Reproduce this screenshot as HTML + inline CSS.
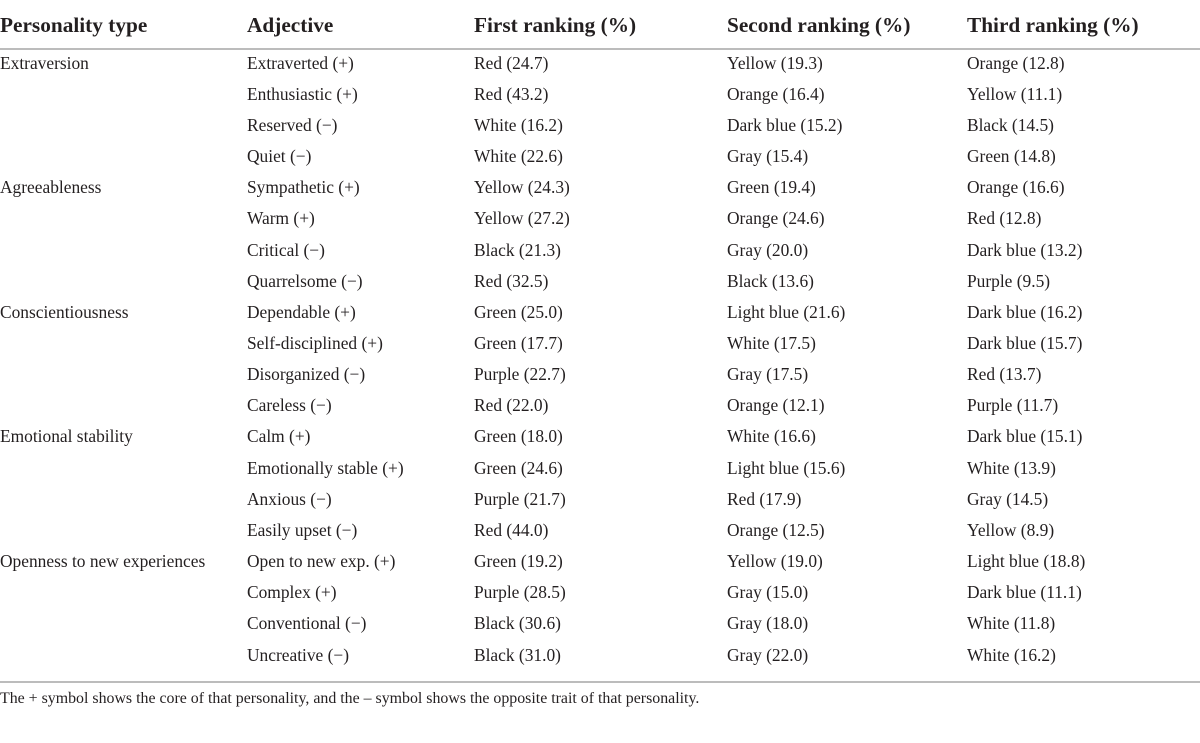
<!DOCTYPE html>
<html><head><meta charset="utf-8"><style>
body{margin:0;width:1200px;height:743px;background:#fff;position:relative;font-family:"Liberation Serif",serif;color:#231f20;overflow:hidden}
.h{position:absolute;top:11px;font-weight:bold;font-size:21.3px;line-height:28px;white-space:nowrap}
.c{position:absolute;font-size:17.4px;line-height:20px;white-space:nowrap}
.line{position:absolute;left:0;width:1200px;height:2px;background:#bcbcbc}
.f{position:absolute;left:0;top:689px;font-size:15.9px;line-height:20px;white-space:nowrap}
</style></head><body>
<div class="h" style="left:0">Personality type</div>
<div class="h" style="left:247px">Adjective</div>
<div class="h" style="left:474px">First ranking (%)</div>
<div class="h" style="left:727px">Second ranking (%)</div>
<div class="h" style="left:967px">Third ranking (%)</div>
<div class="line" style="top:48px"></div>
<div class="line" style="top:681px"></div>
<div id="rows"></div>
<div class="f">The + symbol shows the core of that personality, and the – symbol shows the opposite trait of that personality.</div>
<script>
var d=[["Extraversion","Extraverted (+)","Red (24.7)","Yellow (19.3)","Orange (12.8)"],
["","Enthusiastic (+)","Red (43.2)","Orange (16.4)","Yellow (11.1)"],
["","Reserved (−)","White (16.2)","Dark blue (15.2)","Black (14.5)"],
["","Quiet (−)","White (22.6)","Gray (15.4)","Green (14.8)"],
["Agreeableness","Sympathetic (+)","Yellow (24.3)","Green (19.4)","Orange (16.6)"],
["","Warm (+)","Yellow (27.2)","Orange (24.6)","Red (12.8)"],
["","Critical (−)","Black (21.3)","Gray (20.0)","Dark blue (13.2)"],
["","Quarrelsome (−)","Red (32.5)","Black (13.6)","Purple (9.5)"],
["Conscientiousness","Dependable (+)","Green (25.0)","Light blue (21.6)","Dark blue (16.2)"],
["","Self-disciplined (+)","Green (17.7)","White (17.5)","Dark blue (15.7)"],
["","Disorganized (−)","Purple (22.7)","Gray (17.5)","Red (13.7)"],
["","Careless (−)","Red (22.0)","Orange (12.1)","Purple (11.7)"],
["Emotional stability","Calm (+)","Green (18.0)","White (16.6)","Dark blue (15.1)"],
["","Emotionally stable (+)","Green (24.6)","Light blue (15.6)","White (13.9)"],
["","Anxious (−)","Purple (21.7)","Red (17.9)","Gray (14.5)"],
["","Easily upset (−)","Red (44.0)","Orange (12.5)","Yellow (8.9)"],
["Openness to new experiences","Open to new exp. (+)","Green (19.2)","Yellow (19.0)","Light blue (18.8)"],
["","Complex (+)","Purple (28.5)","Gray (15.0)","Dark blue (11.1)"],
["","Conventional (−)","Black (30.6)","Gray (18.0)","White (11.8)"],
["","Uncreative (−)","Black (31.0)","Gray (22.0)","White (16.2)"]];
var xs=[0,247,474,727,967],h="";
d.forEach(function(r,i){var y=52.5+i*31.16;r.forEach(function(t,j){if(t)h+='<div class="c" style="left:'+xs[j]+'px;top:'+y.toFixed(1)+'px">'+t+'</div>';});});
document.getElementById("rows").innerHTML=h;
</script>
</body></html>
